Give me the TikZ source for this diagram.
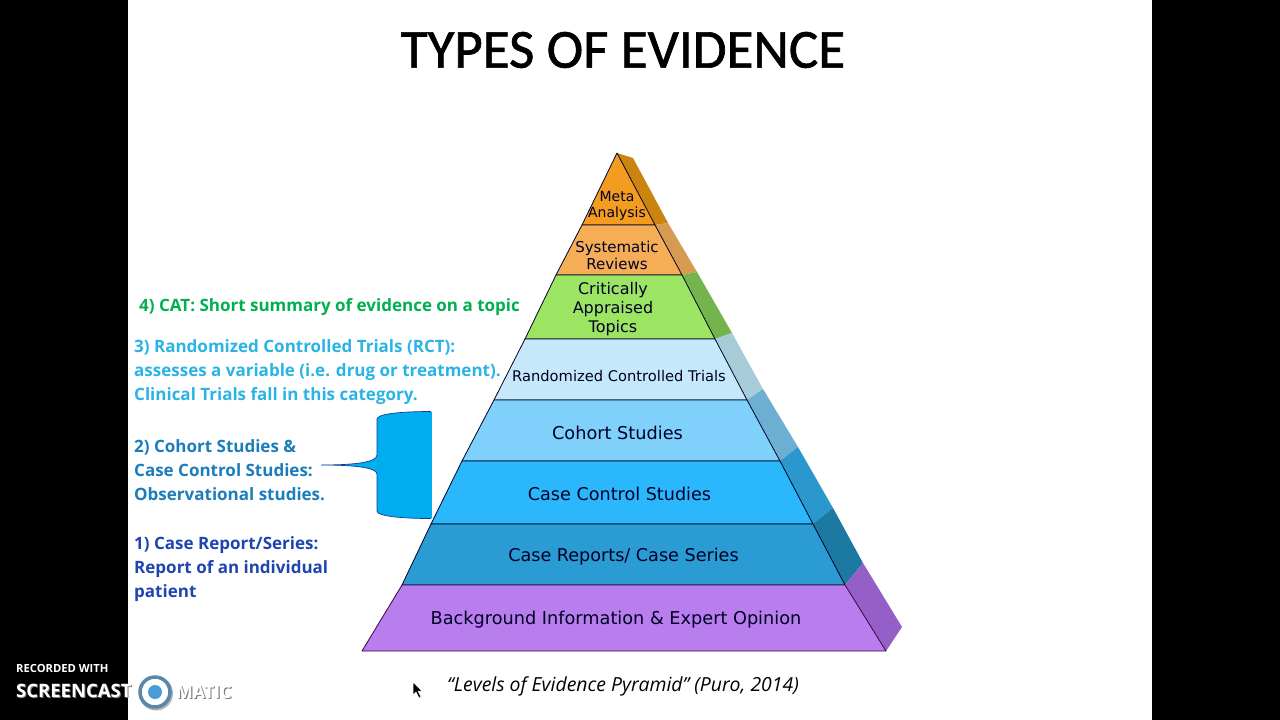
\documentclass[tikz,border=0pt]{standalone}
\usepackage{fontspec}
\setmainfont{Open Sans}
\newfontfamily\titlefont{Carlito}[FakeBold=1.2]
\newfontfamily\pyrfont{DejaVu Sans}
\usepackage{tikz}
\definecolor{topic4}{HTML}{00B050}
\definecolor{topic3}{HTML}{2AB4E6}
\definecolor{topic2}{HTML}{1B7DBB}
\definecolor{topic1}{HTML}{1F45B0}
\definecolor{metafront}{HTML}{F39C1F}
\definecolor{metaside}{HTML}{CC8410}
\definecolor{sysfront}{HTML}{F5AE55}
\definecolor{sysside}{HTML}{D69A50}
\definecolor{catfront}{HTML}{9CE563}
\definecolor{catside}{HTML}{74B44C}
\definecolor{rctfront}{HTML}{C5E9FB}
\definecolor{rctside}{HTML}{A8CBD8}
\definecolor{cohortfront}{HTML}{7FD0FB}
\definecolor{cohortside}{HTML}{6CAFD2}
\definecolor{ctlfront}{HTML}{2AB7FC}
\definecolor{ctlside}{HTML}{2A98CC}
\definecolor{reportfront}{HTML}{2A9BD3}
\definecolor{reportside}{HTML}{1C7AA2}
\definecolor{bgfront}{HTML}{B87EEE}
\definecolor{bgside}{HTML}{9460C8}
\definecolor{bracefill}{HTML}{00AEEF}
\definecolor{braceline}{HTML}{143C96}
\definecolor{ringblue}{HTML}{5A87AA}
\definecolor{dotblue}{HTML}{4B9BD7}
\tikzset{
  layer/.style={draw=black!85!blue,line width=0.8pt,line join=round},
  pyrtext/.style={font=\pyrfont\fontsize{#1}{#1}\selectfont,text=black!85!blue,align=center,inner sep=0pt},
  pyrtext/.default=17,
  notetext/.style={font=\bfseries\fontsize{17}{24}\selectfont,align=left,anchor=north west,inner sep=0pt},
  marktext/.style={anchor=west,inner sep=0pt,font=\bfseries\fontsize{#1}{#1}\selectfont},
}
\begin{document}
\begin{tikzpicture}[x=1pt,y=-1pt]
\useasboundingbox (0,0) rectangle (1280,720);
\fill[white] (0,0) rectangle (1280,720);
\fill[black] (0,0) rectangle (128,720);
\fill[black] (1152,0) rectangle (1280,720);

\node[font=\titlefont\fontsize{55}{55}\selectfont,inner sep=0pt] (title) at (623,50) {TYPES OF EVIDENCE};

% side of the pyramid
\fill[metaside] (617,153) -- (633,158) -- (668,223) -- (655,225) -- cycle;
\fill[sysside] (655,225) -- (668,223) -- (697,272) -- (682,275) -- cycle;
\fill[catside] (682,275) -- (697,272) -- (732,333) -- (715,339) -- cycle;
\fill[rctside] (715,339) -- (732,333) -- (763,389) -- (747,400) -- cycle;
\fill[cohortside] (747,400) -- (763,389) -- (798,447) -- (780,461) -- cycle;
\fill[ctlside] (780,461) -- (798,447) -- (833,508) -- (813,524) -- cycle;
\fill[reportside] (813,524) -- (833,508) -- (863,563) -- (845,585) -- cycle;
\fill[bgside] (845,585) -- (863,563) -- (902,627) -- (886,651) -- cycle;

% front of the pyramid
\filldraw[layer,fill=metafront] (617,153) -- (655,225) -- (582,225) -- cycle;
\filldraw[layer,fill=sysfront] (582,225) -- (655,225) -- (682,275) -- (556,275) -- cycle;
\filldraw[layer,fill=catfront] (556,275) -- (682,275) -- (715,339) -- (525,339) -- cycle;
\filldraw[layer,fill=rctfront] (525,339) -- (715,339) -- (747,400) -- (494,400) -- cycle;
\filldraw[layer,fill=cohortfront] (494,400) -- (747,400) -- (780,461) -- (462,461) -- cycle;
\filldraw[layer,fill=ctlfront] (462,461) -- (780,461) -- (813,524) -- (431,524) -- cycle;
\filldraw[layer,fill=reportfront] (431,524) -- (813,524) -- (845,585) -- (402,585) -- cycle;
\filldraw[layer,draw=black!50!violet,fill=bgfront] (402,585) -- (845,585) -- (886,651) -- (362,651) -- cycle;

\node[pyrtext=14] (meta) at (617,206) {Meta\\[2pt]Analysis};
\node[pyrtext=15] (sysrev) at (617,255) {Systematic\\[2pt]Reviews};
\node[pyrtext=16] (cat) at (613,309) {Critically\\[3pt]Appraised\\[3pt]Topics};
\node[pyrtext=14.7] (rct) at (619,376) {Randomized Controlled Trials};
\node[pyrtext=17.7] (cohort) at (617.5,432.5) {Cohort Studies};
\node[pyrtext=17.6] (casectl) at (619.5,493.5) {Case Control Studies};
\node[pyrtext=17.6] (casereport) at (623.5,557) {Case Reports/ Case Series};
\node[pyrtext=17.7] (background) at (616,620) {Background Information \& Expert Opinion};

% notes on the left
\node[notetext,text=topic4] (note4) at (139,298) {4) CAT: Short summary of evidence on a topic};
\node[notetext,text=topic3] (note3) at (134,339) {3) Randomized Controlled Trials (RCT):\\assesses a variable (i.e. drug or treatment).\\Clinical Trials fall in this category.};
\node[notetext,text=topic2] (note2) at (134,439) {2) Cohort Studies \&\\Case Control Studies:\\Observational studies.};
\node[notetext,text=topic1] (note1) at (134,536) {1) Case Report/Series:\\Report of an individual\\patient};

% brace
\filldraw[draw=braceline,line width=0.7pt,fill=bracefill]
  (431,411.5) .. controls (400,411.5) and (377,414) .. (377,419)
  -- (377,455) .. controls (377,463) and (350,465) .. (321,465)
  .. controls (350,465) and (377,467) .. (377,474)
  -- (377,511) .. controls (377,516) and (400,518.5) .. (431,518.5);
\fill[bracefill] (429,412) rectangle (431.5,518);

\node[font=\itshape\fontsize{19.4}{19.4}\selectfont,inner sep=0pt] (source) at (623,686) {“Levels of Evidence Pyramid” (Puro, 2014)};

% recorder mark
\node[marktext=11.2,text=white] (rec) at (16,668) {RECORDED WITH};
\node[marktext=18.5,text=gray] (castshadow) at (17,692) {SCREENCAST};
\node[marktext=18.5,text=white] (cast) at (16,691) {SCREENCAST};
\fill[gray!60] (156,693.5) circle (17);
\draw[line width=3.5pt,draw=ringblue,fill=white] (155,692) circle (15);
\fill[dotblue] (155,692) circle (7);
\node[marktext=17.8,text=gray] (maticshadow) at (177.2,692.8) {MATIC};
\node[marktext=17.8,text=white] (matic) at (176,692) {MATIC};

% cursor
\filldraw[black,draw=white,line width=0.5pt] (413,682) -- (413,695) -- (416,692) -- (419,698) -- (421,697) -- (418,691) -- (422,691) -- cycle;
\end{tikzpicture}
\end{document}
